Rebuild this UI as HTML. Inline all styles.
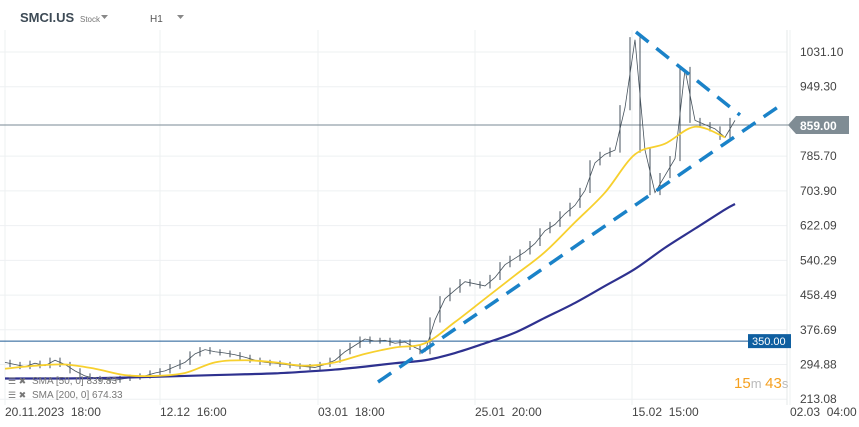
<!DOCTYPE html>
<html><head><meta charset="utf-8"><style>
body{margin:0;background:#fff;font-family:"Liberation Sans",sans-serif;}
svg{display:block}
</style></head><body>
<svg id="c" width="859" height="427" xmlns="http://www.w3.org/2000/svg">
<g id="grid"></g>
<g id="marks"></g>
<g id="axis"></g>
<g>
<text x="20" y="22" font-size="13" font-weight="bold" fill="#3d4a55">SMCI.US</text>
<text x="80" y="22" font-size="8" fill="#777">Stock</text>
<path d="M101,15 l7,0 l-3.5,4z" fill="#888"/>
<text x="150" y="22" font-size="10" fill="#555">H1</text>
<path d="M177,15 l7,0 l-3.5,4z" fill="#888"/>
</g>
<g font-size="10" fill="#777">
<text x="32" y="384">SMA [50, 0] 839.83</text>
<text x="32" y="398">SMA [200, 0] 674.33</text>
<text x="8" y="384" font-size="9">☰ ✖</text>
<text x="8" y="398" font-size="9">☰ ✖</text>
</g>
<text x="734" y="388" font-size="15"><tspan fill="#f5a020">15</tspan><tspan fill="#bbb" font-size="13">m </tspan><tspan fill="#f5a020">43</tspan><tspan fill="#bbb" font-size="13">s</tspan></text>
</svg>
<script>
const priceLabels=[1031.10,949.30,785.70,703.90,622.09,540.29,458.49,376.69,294.88,213.08];
const timeLabels=["20.11.2023  18:00","12.12  16:00","03.01  18:00","25.01  20:00","15.02  15:00","02.03  04:00"];
const closes=[300,295,290,298,292,305,295,280,268,262,260,258,262,265,268,275,280,290,300,320,330,325,322,318,312,305,300,298,295,292,290,288,295,305,325,340,355,350,352,345,348,335,325,400,450,470,490,485,480,500,530,545,560,580,610,625,650,670,705,770,790,800,900,1060,800,700,740,780,990,870,860,850,830,870];
const sma50=[285,292,295,285,270,268,275,300,305,300,292,300,320,335,345,395,450,505,560,630,700,790,815,855,830];
const sma200=[262,262,262,263,264,266,268,270,272,274,278,283,290,298,305,322,345,370,405,440,480,520,570,615,660,673];
const levels=[859.00,350.00];
const y=v=>52+(1031.1-v)*0.4245;
const xc=i=>5+i*10;
const xs=i=>Math.min(5+i*30,735);
const NS="http://www.w3.org/2000/svg";
function mk(t,a,p){const e=document.createElementNS(NS,t);for(const k in a)e.setAttribute(k,a[k]);p.appendChild(e);return e;}
function smooth(pts){let d='M'+pts[0][0]+','+pts[0][1];for(let i=0;i<pts.length-1;i++){const p0=pts[Math.max(i-1,0)],p1=pts[i],p2=pts[i+1],p3=pts[Math.min(i+2,pts.length-1)];
d+=' C'+(p1[0]+(p2[0]-p0[0])/6)+','+(p1[1]+(p2[1]-p0[1])/6)+' '+(p2[0]-(p3[0]-p1[0])/6)+','+(p2[1]-(p3[1]-p1[1])/6)+' '+p2[0]+','+p2[1];}return d;}
const grid=document.getElementById('grid'),marks=document.getElementById('marks'),axis=document.getElementById('axis');
priceLabels.forEach(v=>{const l=mk('line',{x1:0,x2:787,y1:y(v),y2:y(v),stroke:'#eef0f2'},grid);


const t=mk('text',{x:800,y:y(v)+4,'font-size':12,fill:'#444'},axis);t.textContent=v.toFixed(2);

});
const tx=[5,160,318,475,632,790];
timeLabels.forEach((s,i)=>{const l=mk('line',{x1:tx[i],x2:tx[i],y1:30,y2:405,stroke:'#eef0f2'},grid);


const t=mk('text',{x:tx[i],y:416,'font-size':12,fill:'#444'},axis);t.textContent=s;t.style.whiteSpace='pre';

});
mk('line',{x1:787,x2:787,y1:30,y2:405,stroke:'#e6e8ea'},grid);
const lv0=mk('line',{x1:0,x2:790,y1:y(levels[0]),y2:y(levels[0]),stroke:'#7a8a94'},marks);


const lv1=mk('line',{x1:0,x2:750,y1:y(levels[1]),y2:y(levels[1]),stroke:'#1d5a94'},marks);


for(let i=1;i<closes.length;i++){const a=closes[i-1],b=closes[i];const hi=Math.max(a,b)+6,lo=Math.min(a,b)-6;
const r=mk('line',{x1:xc(i)-5,x2:xc(i)-5,y1:y(hi),y2:y(lo),stroke:'#46525c','stroke-width':1},marks);

}
const pl=mk('polyline',{points:closes.map((v,i)=>xc(i)+','+y(v)).join(' '),fill:'none',stroke:'#46525c','stroke-width':0.8},marks);


const s2=mk('path',{d:smooth(sma200.map((v,i)=>[xs(i),y(v)])),fill:'none',stroke:'#2e318f','stroke-width':2.2},marks);


const s1=mk('path',{d:smooth(sma50.map((v,i)=>[xs(i),y(v)])),fill:'none',stroke:'#f7d02e','stroke-width':1.8},marks);


const t1=mk('line',{x1:636,y1:32,x2:740,y2:115,stroke:'#1a82c8','stroke-width':3.5,'stroke-dasharray':'16 10'},marks);


const t2=mk('line',{x1:378,y1:382,x2:778,y2:107,stroke:'#1a82c8','stroke-width':3.5,'stroke-dasharray':'16 10'},marks);


const b1=mk('path',{d:`M788,${y(859)} l8,-9 h53 v18 h-53z`,fill:'#7f8c94'},axis);


const bt=mk('text',{x:800,y:y(859)+5,'font-size':12,fill:'#fff','font-weight':'bold'},axis);bt.textContent=levels[0].toFixed(2);
const b2=mk('rect',{x:748,y:y(350)-7,width:43,height:14,fill:'#0f5fa0'},axis);


const bt2=mk('text',{x:752,y:y(350)+4,'font-size':11,fill:'#fff'},axis);bt2.textContent=levels[1].toFixed(2);
</script>
</body></html>
